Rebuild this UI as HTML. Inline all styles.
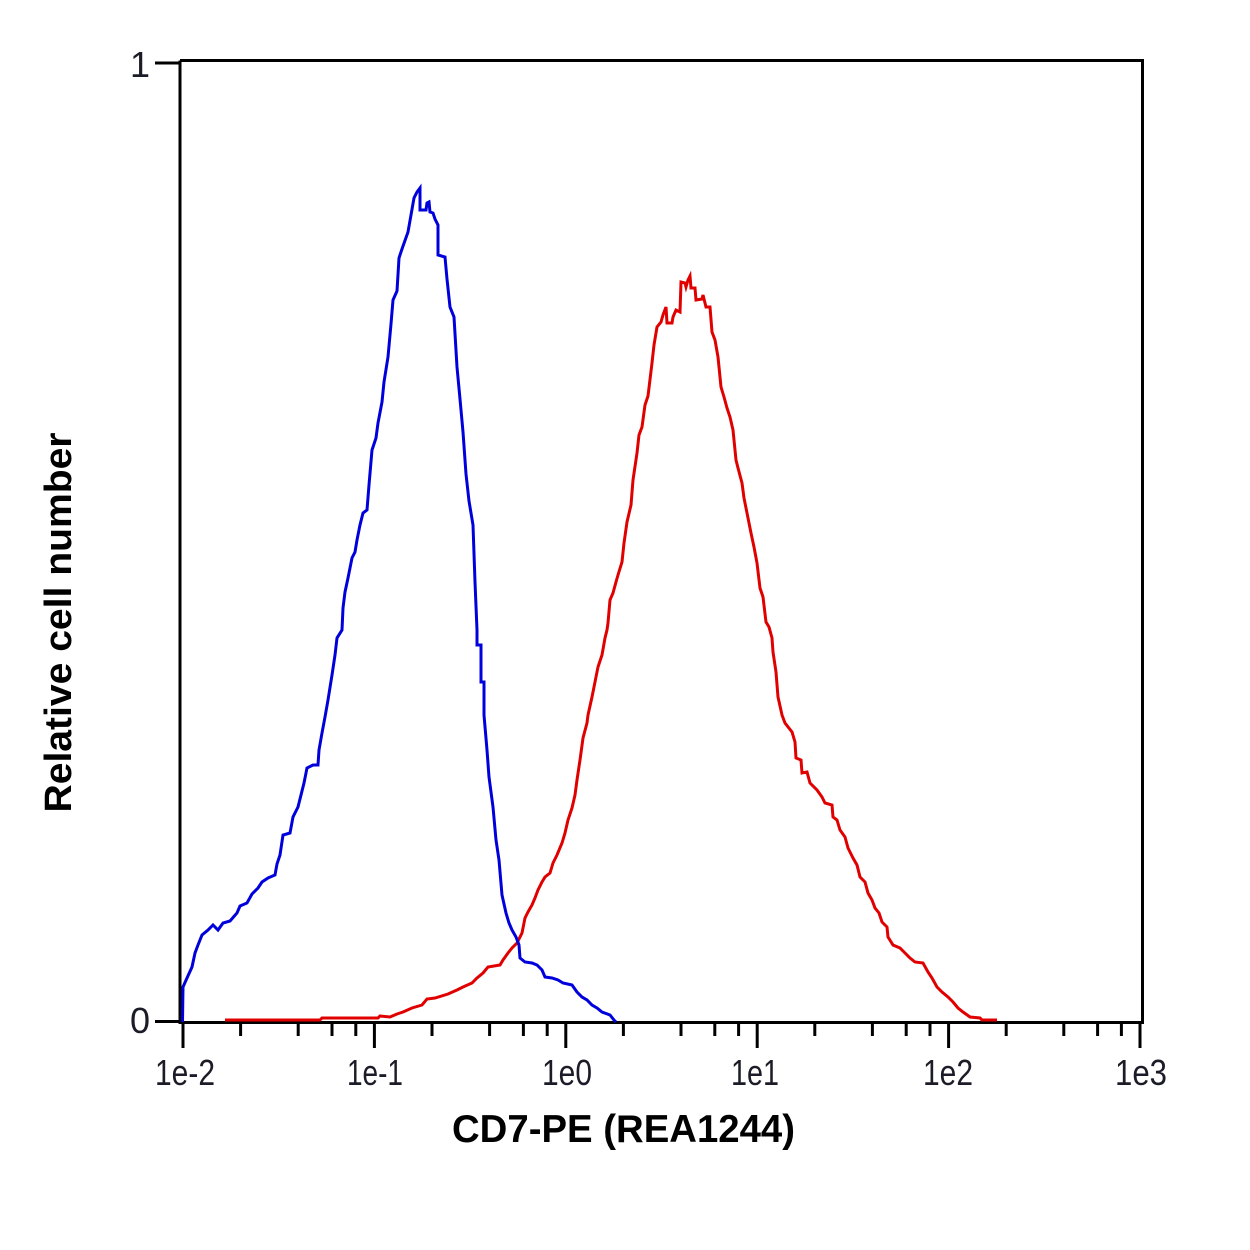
<!DOCTYPE html>
<html><head><meta charset="utf-8"><style>
html,body{margin:0;padding:0;background:#fff;}
svg{display:block;}
</style></head><body>
<svg width="1250" height="1250" viewBox="0 0 1250 1250" xmlns="http://www.w3.org/2000/svg">
<rect width="1250" height="1250" fill="#fff"/>
<g stroke="#000" stroke-width="3" fill="none">
<polyline points="180,60.5 1142.5,60.5 1142.5,1022.5 180,1022.5 180,60.5"/>
<line x1="155" y1="63" x2="180" y2="63"/>
<line x1="155" y1="1021.5" x2="180" y2="1021.5"/>
<line x1="183" y1="1022" x2="183" y2="1048"/>
<line x1="374.4" y1="1022" x2="374.4" y2="1048"/>
<line x1="565.8" y1="1022" x2="565.8" y2="1048"/>
<line x1="757.2" y1="1022" x2="757.2" y2="1048"/>
<line x1="948.6" y1="1022" x2="948.6" y2="1048"/>
<line x1="1140" y1="1022" x2="1140" y2="1048"/>
</g>
<g stroke="#000" stroke-width="3" id="minor">
<line x1="240.6" y1="1022" x2="240.6" y2="1036"/><line x1="298.2" y1="1022" x2="298.2" y2="1036"/><line x1="332" y1="1022" x2="332" y2="1036"/><line x1="355.8" y1="1022" x2="355.8" y2="1036"/>
<line x1="432" y1="1022" x2="432" y2="1036"/><line x1="489.6" y1="1022" x2="489.6" y2="1036"/><line x1="523.4" y1="1022" x2="523.4" y2="1036"/><line x1="547.2" y1="1022" x2="547.2" y2="1036"/>
<line x1="623.4" y1="1022" x2="623.4" y2="1036"/><line x1="681" y1="1022" x2="681" y2="1036"/><line x1="714.8" y1="1022" x2="714.8" y2="1036"/><line x1="738.6" y1="1022" x2="738.6" y2="1036"/>
<line x1="814.8" y1="1022" x2="814.8" y2="1036"/><line x1="872.4" y1="1022" x2="872.4" y2="1036"/><line x1="906.2" y1="1022" x2="906.2" y2="1036"/><line x1="930" y1="1022" x2="930" y2="1036"/>
<line x1="1006.2" y1="1022" x2="1006.2" y2="1036"/><line x1="1063.8" y1="1022" x2="1063.8" y2="1036"/><line x1="1097.6" y1="1022" x2="1097.6" y2="1036"/><line x1="1121.4" y1="1022" x2="1121.4" y2="1036"/>
</g>
<polyline fill="none" stroke="#e00000" stroke-width="3" stroke-linejoin="miter" points="225,1020 320,1020 322,1018 378,1018 380,1016 390,1017 397,1014 403,1012 412,1008 422,1005 427,999 435,998 448,994 457,990 463,987 472,983 477,978 483,973 488,967 500,965 503,960 508,953 512,948 517,943 522,933 525,918 528,912 532,905 535,898 538,890 542,882 545,877 550,873 553,863 557,855 562,843 565,833 568,820 572,808 575,795 577,780 580,760 583,738 587,723 588,715 592,697 595,682 598,667 602,655 605,638 607,630 608,623 610,600 613,593 616,582 618,575 622,562 624,543 627,522 631,505 633,480 637,453 639,435 642,427 645,405 648,396 652,363 654,345 657,327 661,322 663,315 666,307 667,323 672,323 673,317 676,310 680,312 681,282 685,283 686,287 688,280 690,276 691,288 695,288 696,300 702,299 703,295 706,307 710,307 712,332 715,340 718,357 721,387 724,397 727,408 730,417 733,430 736,460 738,468 742,483 744,498 748,518 751,533 754,547 757,563 760,588 763,597 766,622 769,627 772,638 773,652 776,672 778,697 782,715 785,723 792,732 795,742 796,758 801,760 802,773 807,772 810,783 817,790 822,797 825,803 832,805 833,817 837,820 840,830 845,837 848,848 853,858 857,865 860,877 865,882 868,893 872,900 875,908 879,913 882,922 887,927 888,937 893,945 900,948 905,953 910,958 915,962 923,963 928,972 932,978 937,987 942,992 948,997 953,1002 958,1008 963,1012 970,1017 980,1018 982,1020 997,1020"/>
<polyline fill="none" stroke="#0000dc" stroke-width="3" stroke-linejoin="miter" points="182.5,1022 183,987 187,978 192,967 195,953 198,945 202,935 208,930 213,925 218,930 223,923 230,921 237,913 240,906 247,903 252,894 258,888 262,882 268,878 275,875 277,864 280,855 283,835 290,833 293,817 298,807 301,795 304,783 307,768 313,765 318,765 319,750 322,733 325,717 328,700 332,675 335,655 337,638 342,630 343,608 345,592 348,578 352,558 355,552 357,540 360,525 363,513 367,510 369,485 372,450 376,438 378,423 382,402 384,382 388,357 391,324 393,300 397,291 399,258 402,249 408,232 411,215 414,198 417,192 420,188 420,210 426,210 427,203 429,202 430,212 433,213 435,219 438,225 438,255 445,257 447,279 450,307 454,317 457,367 460,399 463,432 466,474 469,501 473,525 475,582 477,630 477,645 481,645 481,682 484,682 484,715 487,750 489,777 493,807 496,840 499,860 502,895 506,913 509,923 512,930 516,937 519,945 520,958 525,962 532,963 537,965 542,970 545,977 552,978 558,980 563,983 572,985 577,992 582,997 587,1000 592,1005 597,1008 602,1012 610,1015 614,1020 616,1022"/>
<g font-family="Liberation Sans, DejaVu Sans, sans-serif" font-size="36" fill="#1c1c28" text-anchor="middle">
<text x="140" y="77">1</text>
<text x="140" y="1033">0</text>
<text x="185" y="1085" textLength="60" lengthAdjust="spacingAndGlyphs">1e-2</text>
<text x="375" y="1085" textLength="56" lengthAdjust="spacingAndGlyphs">1e-1</text>
<text x="567" y="1085" textLength="50" lengthAdjust="spacingAndGlyphs">1e0</text>
<text x="755" y="1085" textLength="48" lengthAdjust="spacingAndGlyphs">1e1</text>
<text x="948" y="1085" textLength="50" lengthAdjust="spacingAndGlyphs">1e2</text>
<text x="1141" y="1085" textLength="52" lengthAdjust="spacingAndGlyphs">1e3</text>
</g>
<text x="623.5" y="1142" font-family="Liberation Sans, DejaVu Sans, sans-serif" font-weight="bold" font-size="39" fill="#000" text-anchor="middle" textLength="343" lengthAdjust="spacingAndGlyphs">CD7-PE (REA1244)</text>
<text transform="translate(71,622.5) rotate(-90)" font-family="Liberation Sans, DejaVu Sans, sans-serif" font-weight="bold" font-size="38" fill="#000" text-anchor="middle" textLength="380" lengthAdjust="spacingAndGlyphs">Relative cell number</text>
</svg>
</body></html>
